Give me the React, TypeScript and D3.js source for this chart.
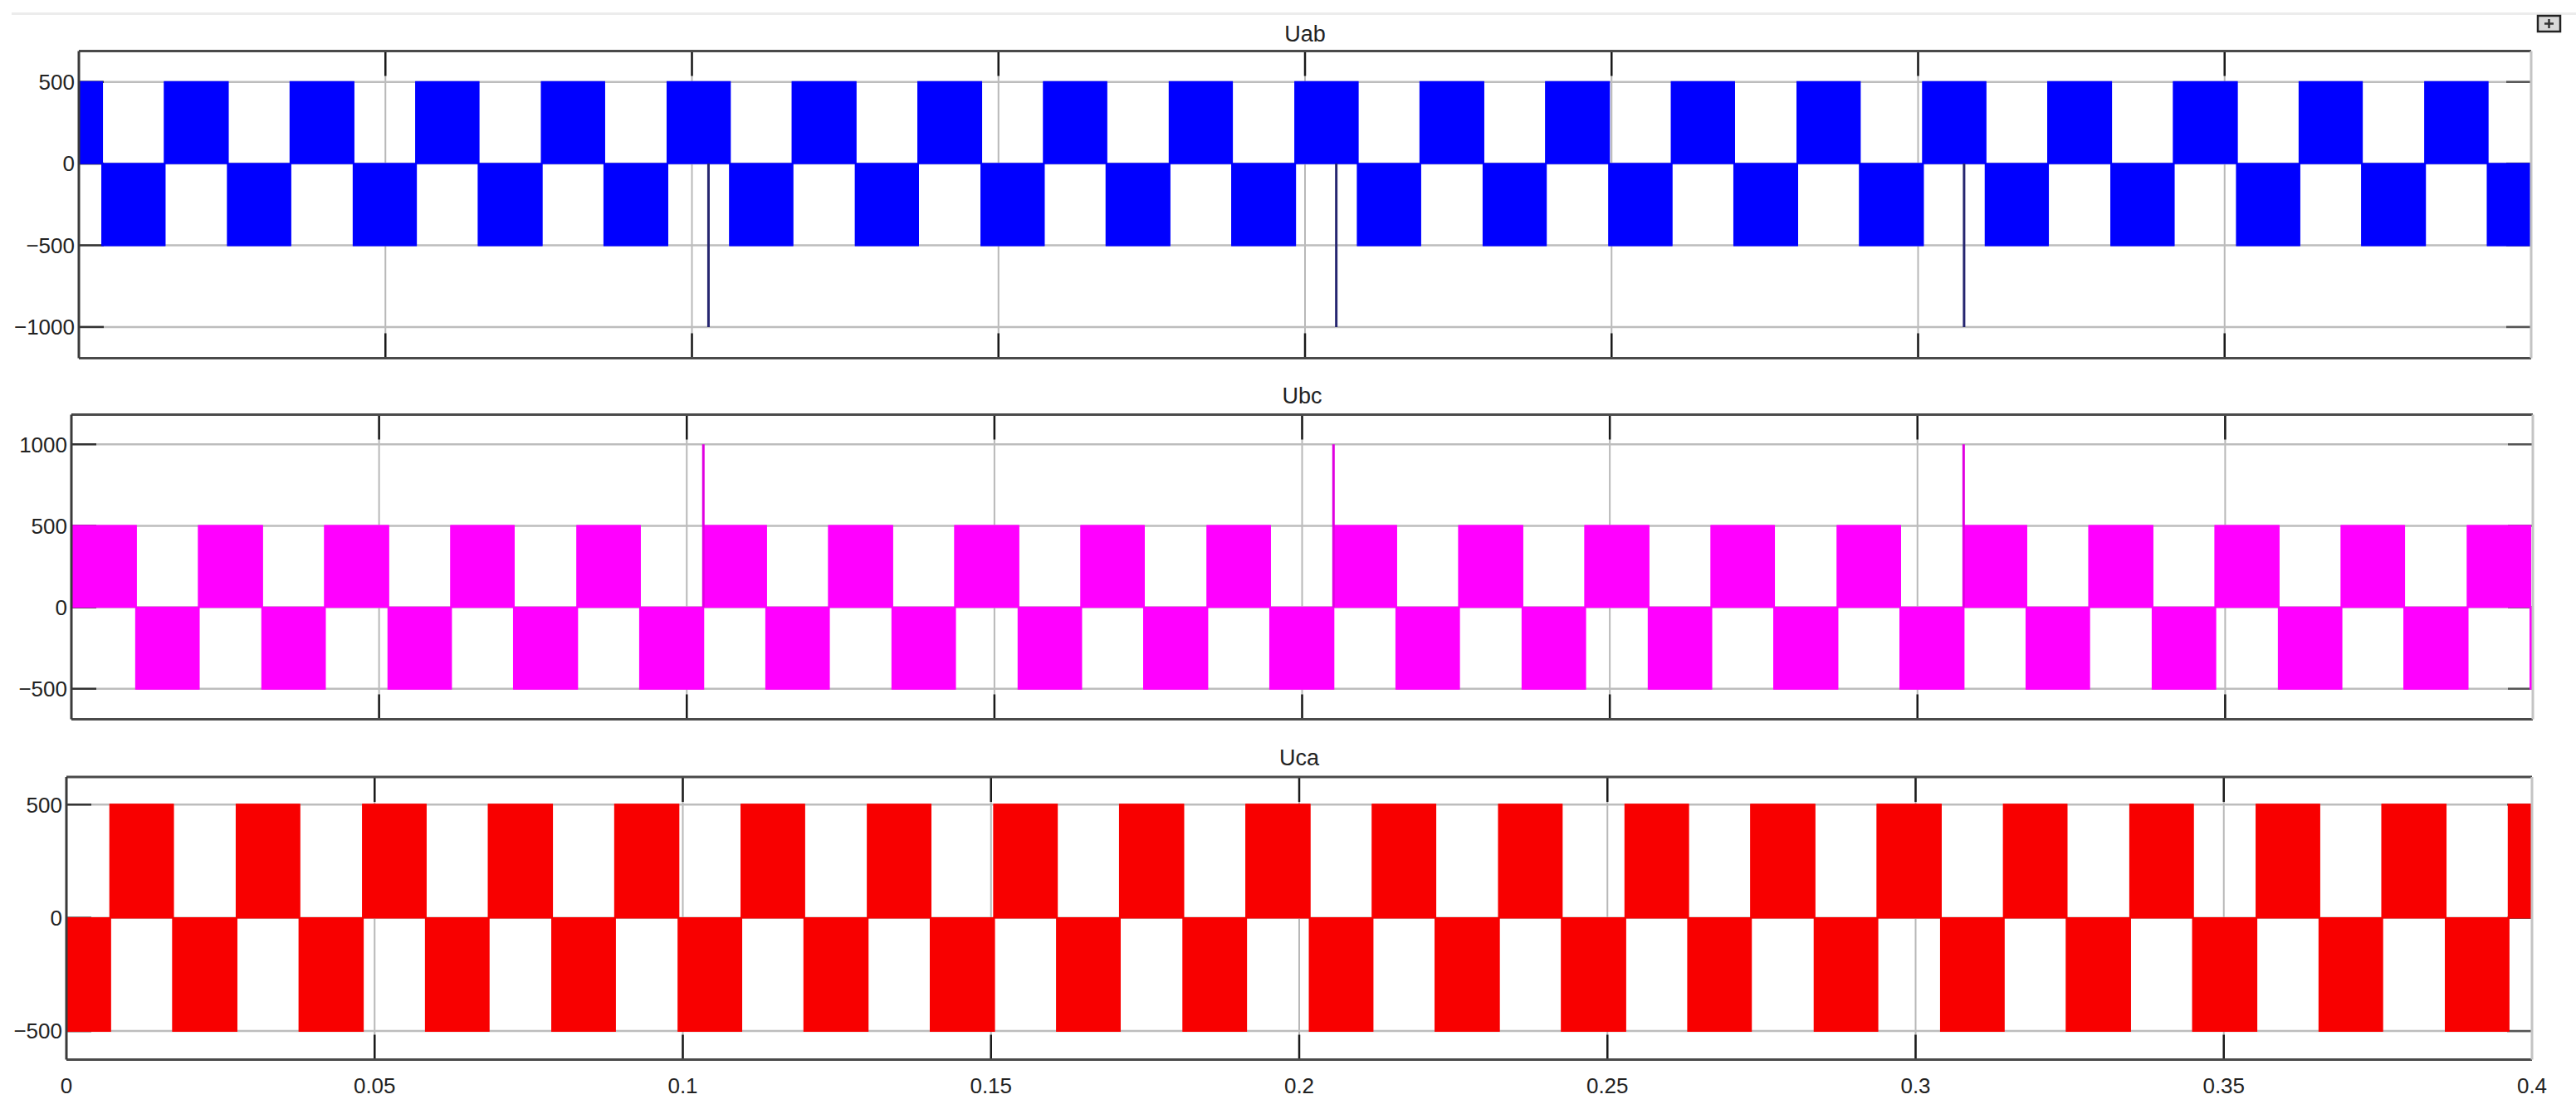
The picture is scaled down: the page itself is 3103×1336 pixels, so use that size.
import React, { useEffect, useRef } from 'react';
import * as d3 from 'd3';

// time axis (s)
const xTicks = [0, 0.05, 0.1, 0.15, 0.2, 0.25, 0.3, 0.35, 0.4];
const xTickLabels = ['0', '0.05', '0.1', '0.15', '0.2', '0.25', '0.3', '0.35', '0.4'];

// switching instants (s); level flips at each one
const uabEdges = [
  0.0038, 0.0140, 0.0243, 0.0345, 0.0448, 0.0550, 0.0652, 0.0755, 0.0857, 0.0960,
  0.1062, 0.1164, 0.1267, 0.1369, 0.1472, 0.1574, 0.1676, 0.1779, 0.1881, 0.1984,
  0.2086, 0.2188, 0.2291, 0.2393, 0.2496, 0.2598, 0.2700, 0.2803, 0.2905, 0.3008,
  0.3110, 0.3212, 0.3315, 0.3417, 0.3520, 0.3622, 0.3724, 0.3827, 0.3929,
];
const ubcEdges = [
  0.0105, 0.0207, 0.0310, 0.0412, 0.0515, 0.0617, 0.0719, 0.0822, 0.0924, 0.1027,
  0.1129, 0.1231, 0.1334, 0.1436, 0.1539, 0.1641, 0.1743, 0.1846, 0.1948, 0.2051,
  0.2153, 0.2255, 0.2358, 0.2460, 0.2563, 0.2665, 0.2767, 0.2870, 0.2972, 0.3075,
  0.3177, 0.3279, 0.3382, 0.3484, 0.3587, 0.3689, 0.3791, 0.3894, 0.3996,
];
const ucaEdges = [
  0.0071, 0.0173, 0.0276, 0.0378, 0.0481, 0.0583, 0.0685, 0.0788, 0.0890, 0.0993,
  0.1095, 0.1197, 0.1300, 0.1402, 0.1505, 0.1607, 0.1709, 0.1812, 0.1914, 0.2017,
  0.2119, 0.2221, 0.2324, 0.2426, 0.2529, 0.2631, 0.2733, 0.2836, 0.2938, 0.3041,
  0.3143, 0.3245, 0.3348, 0.3450, 0.3553, 0.3655, 0.3757, 0.3860, 0.3962,
];
// level of the first block at t = 0 (V)
const uabFirstLevel = 500;
const ubcFirstLevel = 500;
const ucaFirstLevel = -500;

// short spikes
const spikeTimes = [0.1027, 0.2051, 0.3075];
const uabSpikeValues = [-1000, -1000, -1000];
const ubcSpikeValues = [1000, 1000, 1000];

const uabYTicks = [500, 0, -500, -1000];
const ubcYTicks = [1000, 500, 0, -500];
const ucaYTicks = [500, 0, -500];

const W = 3103;
const H = 1336;
const FONT = "'Liberation Sans', Arial, Helvetica, sans-serif";

const panels = [
  {
    title: 'Uab', edges: uabEdges, first: uabFirstLevel, spikes: uabSpikeValues,
    color: '#0000ff', spikeColor: '#262670', yTicks: uabYTicks, yDomain: [-1191, 689],
    left: 95, right: 3049, top: 61.5, bottom: 431.5, titleY: 50, showX: false,
  },
  {
    title: 'Ubc', edges: ubcEdges, first: ubcFirstLevel, spikes: ubcSpikeValues,
    color: '#ff00ff', spikeColor: '#e000e0', yTicks: ubcYTicks, yDomain: [-687, 1182],
    left: 86, right: 3051, top: 499.5, bottom: 866.5, titleY: 486, showX: false,
  },
  {
    title: 'Uca', edges: ucaEdges, first: ucaFirstLevel, spikes: null,
    color: '#f80000', spikeColor: '#f80000', yTicks: ucaYTicks, yDomain: [-626, 622],
    left: 80, right: 3050, top: 936, bottom: 1276.5, titleY: 922, showX: true,
  },
];

export default function App() {
  const ref = useRef<SVGSVGElement>(null);

  useEffect(() => {
    document.body.style.margin = '0';
    if (!ref.current) return;
    const svg = d3.select(ref.current);
    svg.selectAll('*').remove();

    svg.append('rect').attr('width', W).attr('height', H).attr('fill', '#fff');

    // faint toolbar line and the small icon top right
    svg.append('line')
      .attr('x1', 14).attr('x2', W).attr('y1', 16.5).attr('y2', 16.5)
      .attr('stroke', '#ececec').attr('stroke-width', 3);
    const icon = svg.append('g').attr('transform', 'translate(3057,19)');
    icon.append('rect').attr('width', 27).attr('height', 19)
      .attr('fill', '#d8d8d8').attr('stroke', '#222').attr('stroke-width', 2.5);
    icon.append('path').attr('d', 'M13.5,4 V15 M8,9.5 H19')
      .attr('stroke', '#333').attr('stroke-width', 2.5);

    panels.forEach((p, pi) => {
      const x = d3.scaleLinear().domain([0, 0.4]).range([p.left, p.right]);
      const y = d3.scaleLinear().domain(p.yDomain).range([p.bottom, p.top]);
      const g = svg.append('g');

      const clipId = `clip-${pi}`;
      svg.append('defs').append('clipPath').attr('id', clipId)
        .append('rect')
        .attr('x', p.left).attr('y', p.top)
        .attr('width', p.right - p.left).attr('height', p.bottom - p.top);

      // grid
      g.selectAll('.vgrid')
        .data(xTicks.slice(1, -1))
        .enter().append('line')
        .attr('x1', d => x(d)).attr('x2', d => x(d))
        .attr('y1', p.top).attr('y2', p.bottom)
        .attr('stroke', '#b8b8b8').attr('stroke-width', 2);
      g.selectAll('.hgrid')
        .data(p.yTicks)
        .enter().append('line')
        .attr('x1', p.left).attr('x2', p.right)
        .attr('y1', d => y(d)).attr('y2', d => y(d))
        .attr('stroke', '#bdbdbd').attr('stroke-width', 2.5);

      // inside tick marks
      const tl = 30;
      xTicks.slice(1, -1).forEach(t => {
        g.append('line').attr('x1', x(t)).attr('x2', x(t))
          .attr('y1', p.top).attr('y2', p.top + tl)
          .attr('stroke', '#1a1a1a').attr('stroke-width', 2.5);
        g.append('line').attr('x1', x(t)).attr('x2', x(t))
          .attr('y1', p.bottom).attr('y2', p.bottom - tl)
          .attr('stroke', '#1a1a1a').attr('stroke-width', 2.5);
      });
      p.yTicks.forEach(v => {
        g.append('line').attr('x1', p.left).attr('x2', p.left + tl)
          .attr('y1', y(v)).attr('y2', y(v))
          .attr('stroke', '#333').attr('stroke-width', 2.5);
        g.append('line').attr('x1', p.right).attr('x2', p.right - tl)
          .attr('y1', y(v)).attr('y2', y(v))
          .attr('stroke', '#555').attr('stroke-width', 2.5);
      });

      // blocks: level alternates at each switching instant
      const pts: { t: number; v: number }[] = [{ t: 0, v: p.first }];
      p.edges.forEach((t, i) => {
        pts.push({ t, v: i % 2 === 0 ? -p.first : p.first });
      });
      pts.push({ t: 0.4, v: pts[pts.length - 1].v });

      const area = d3.area<{ t: number; v: number }>()
        .x(d => x(d.t))
        .y0(y(0))
        .y1(d => y(d.v))
        .curve(d3.curveStepAfter);
      const line = d3.line<{ t: number; v: number }>()
        .x(d => x(d.t))
        .y(d => y(d.v))
        .curve(d3.curveStepAfter);

      const dg = g.append('g').attr('clip-path', `url(#${clipId})`);
      dg.append('path').attr('d', area(pts) as string)
        .attr('fill', p.color).attr('stroke', p.color).attr('stroke-width', 1.5);
      dg.append('path').attr('d', line(pts) as string)
        .attr('fill', 'none').attr('stroke', p.color).attr('stroke-width', 2);

      if (p.spikes) {
        dg.selectAll('.spike')
          .data(spikeTimes.map((t, i) => ({ t, v: p.spikes![i] })))
          .enter().append('line')
          .attr('x1', d => x(d.t)).attr('x2', d => x(d.t))
          .attr('y1', y(0)).attr('y2', d => y(d.v))
          .attr('stroke', p.spikeColor).attr('stroke-width', 3);
      }

      // axes box
      g.append('line').attr('x1', p.left).attr('x2', p.right)
        .attr('y1', p.top).attr('y2', p.top).attr('stroke', '#4a4a4a').attr('stroke-width', 3);
      g.append('line').attr('x1', p.left).attr('x2', p.right)
        .attr('y1', p.bottom).attr('y2', p.bottom).attr('stroke', '#4a4a4a').attr('stroke-width', 3);
      g.append('line').attr('x1', p.left).attr('x2', p.left)
        .attr('y1', p.top).attr('y2', p.bottom).attr('stroke', '#3a3a3a').attr('stroke-width', 3);
      g.append('line').attr('x1', p.right).attr('x2', p.right)
        .attr('y1', p.top).attr('y2', p.bottom).attr('stroke', '#c4c4c4').attr('stroke-width', 3);

      // y labels
      g.selectAll('.ylab')
        .data(p.yTicks)
        .enter().append('text')
        .attr('x', p.left - 5)
        .attr('y', d => y(d))
        .attr('dy', '0.36em')
        .attr('text-anchor', 'end')
        .attr('font-family', FONT)
        .attr('font-size', 26)
        .attr('fill', '#222')
        .text(d => d3.format('d')(d));

      // title
      g.append('text')
        .attr('x', (p.left + p.right) / 2)
        .attr('y', p.titleY)
        .attr('text-anchor', 'middle')
        .attr('font-family', FONT)
        .attr('font-size', 27)
        .attr('fill', '#222')
        .text(p.title);

      if (p.showX) {
        g.selectAll('.xlab')
          .data(xTicks)
          .enter().append('text')
          .attr('x', d => x(d))
          .attr('y', 1317)
          .attr('text-anchor', 'middle')
          .attr('font-family', FONT)
          .attr('font-size', 26)
          .attr('fill', '#222')
          .text((d, i) => xTickLabels[i]);
      }
    });
  }, []);

  return <svg ref={ref} width={W} height={H} style={{ display: 'block' }} />;
}
